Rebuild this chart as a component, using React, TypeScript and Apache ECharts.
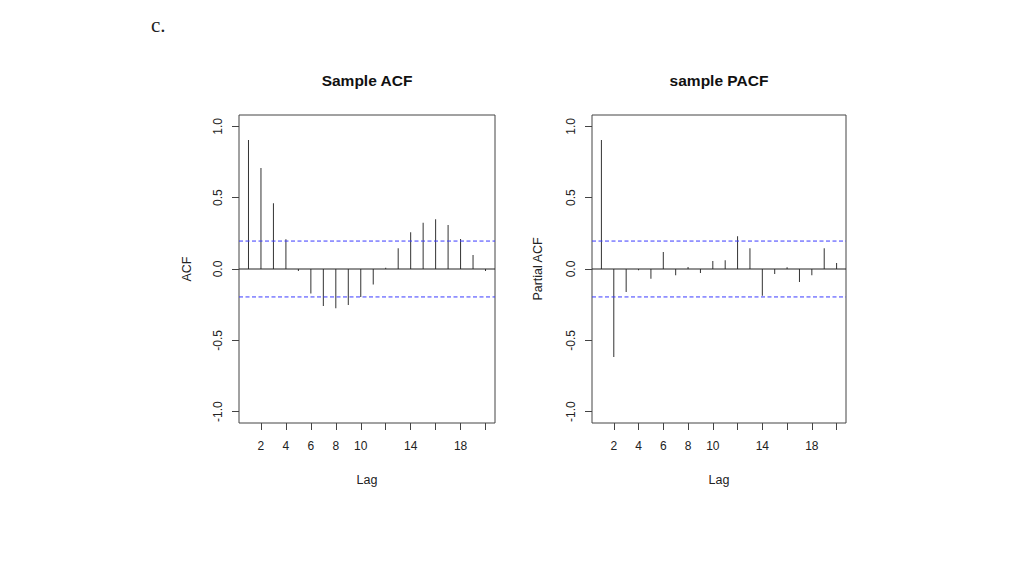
import * as echarts from 'echarts';
import { useEffect, useRef } from 'react';

const lags = [1, 2, 3, 4, 5, 6, 7, 8, 9, 10, 11, 12, 13, 14, 15, 16, 17, 18, 19, 20];
const acfValues = [
  0.905, 0.709, 0.461, 0.208, -0.014, -0.171, -0.26, -0.276, -0.253, -0.196,
  -0.108, 0.009, 0.145, 0.257, 0.325, 0.349, 0.309, 0.211, 0.098, -0.014,
];
const pacfValues = [
  0.905, -0.618, -0.161, -0.009, -0.068, 0.119, -0.044, 0.014, -0.028, 0.056,
  0.061, 0.229, 0.145, -0.187, -0.035, 0.012, -0.091, -0.044, 0.145, 0.042,
];
const confBound = 0.196;
const xTicks = [2, 4, 6, 8, 10, 12, 14, 16, 18, 20];
const xTickLabels = [2, 4, 6, 8, 10, 14, 18];
const yTicks = [-1, -0.5, 0, 0.5, 1];
const xMin = 0.24;
const xMax = 20.76;

const FONT = '"Liberation Sans", Arial, sans-serif';
const TEXT = '#222';
const FRAME = '#444';
const BLUE = '#3a3aff';

const makeX = (gridIndex: number) => ({
  type: 'value' as const,
  gridIndex,
  min: xMin,
  max: xMax,
  name: 'Lag',
  nameLocation: 'middle' as const,
  nameGap: 50,
  nameMoveOverlap: false,
  nameTextStyle: { color: TEXT, fontFamily: FONT, fontSize: 12.5 },
  axisLine: { show: false, onZero: false },
  splitLine: { show: false },
  axisTick: { show: true, length: 7, customValues: xTicks, lineStyle: { color: FRAME } },
  axisLabel: { customValues: xTickLabels, margin: 17, color: TEXT, fontFamily: FONT, fontSize: 12 },
});

const makeY = (gridIndex: number, name: string, gap: number) => ({
  type: 'value' as const,
  gridIndex,
  min: -1.08,
  max: 1.08,
  name,
  nameLocation: 'middle' as const,
  nameGap: gap,
  nameMoveOverlap: false,
  nameTextStyle: { color: TEXT, fontFamily: FONT, fontSize: 12.5 },
  axisLine: { show: false, onZero: false },
  splitLine: { show: false },
  axisTick: { show: true, length: 7, customValues: yTicks, lineStyle: { color: FRAME } },
  axisLabel: {
    customValues: yTicks,
    rotate: 90,
    margin: 15,
    color: TEXT,
    fontFamily: FONT,
    fontSize: 12,
    formatter: (v: number) => v.toFixed(1),
  },
});

const hLine = (index: number, y: number, color: string, type: any) => ({
  type: 'line' as const,
  xAxisIndex: index,
  yAxisIndex: index,
  data: [[xMin, y], [xMax, y]],
  showSymbol: false,
  symbol: 'none',
  silent: true,
  lineStyle: { color, type, width: 1 },
  z: 3,
});

const makeSeries = (index: number, values: number[]) => [
  {
    type: 'bar' as const,
    xAxisIndex: index,
    yAxisIndex: index,
    data: lags.map((l, i) => [l, values[i]]),
    barWidth: 1,
    itemStyle: { color: '#333' },
    silent: true,
  },
  hLine(index, 0, '#222', 'solid'),
  hLine(index, confBound, BLUE, [4, 2.5]),
  hLine(index, -confBound, BLUE, [4, 2.5]),
];

export default function App() {
  const chartRef = useRef<HTMLDivElement>(null);

  useEffect(() => {
    if (!chartRef.current) return;
    const chart = echarts.init(chartRef.current, null, { renderer: 'svg' });

    const option = {
      animation: false,
      backgroundColor: '#fff',
      grid: [
        { left: 239, top: 115, width: 256, height: 308, show: true, borderColor: FRAME, borderWidth: 1, backgroundColor: 'transparent' },
        { left: 592, top: 115, width: 254, height: 308, show: true, borderColor: FRAME, borderWidth: 1, backgroundColor: 'transparent' },
      ],
      xAxis: [makeX(0), makeX(1)],
      yAxis: [makeY(0, 'ACF', 46), makeY(1, 'Partial ACF', 48)],
      series: [...makeSeries(0, acfValues), ...makeSeries(1, pacfValues)],
      graphic: [
        {
          type: 'text',
          x: 151,
          y: 25,
          style: { text: 'c.', fill: '#222', font: '21px "Liberation Serif", "Times New Roman", serif', textAlign: 'left', textVerticalAlign: 'middle', align: 'left', verticalAlign: 'middle' },
        },
        {
          type: 'text',
          x: 367,
          y: 80,
          style: { text: 'Sample ACF', fill: '#111', font: `bold 15.5px ${FONT}`, textAlign: 'center', textVerticalAlign: 'middle', align: 'center', verticalAlign: 'middle' },
        },
        {
          type: 'text',
          x: 719,
          y: 80,
          style: { text: 'sample PACF', fill: '#111', font: `bold 15.5px ${FONT}`, textAlign: 'center', textVerticalAlign: 'middle', align: 'center', verticalAlign: 'middle' },
        },
      ],
    };

    chart.setOption(option);
    return () => {
      chart.dispose();
    };
  }, []);

  return (
    <div
      ref={chartRef}
      style={{ position: 'absolute', left: 0, top: 0, width: 1024, height: 581 }}
    />
  );
}
